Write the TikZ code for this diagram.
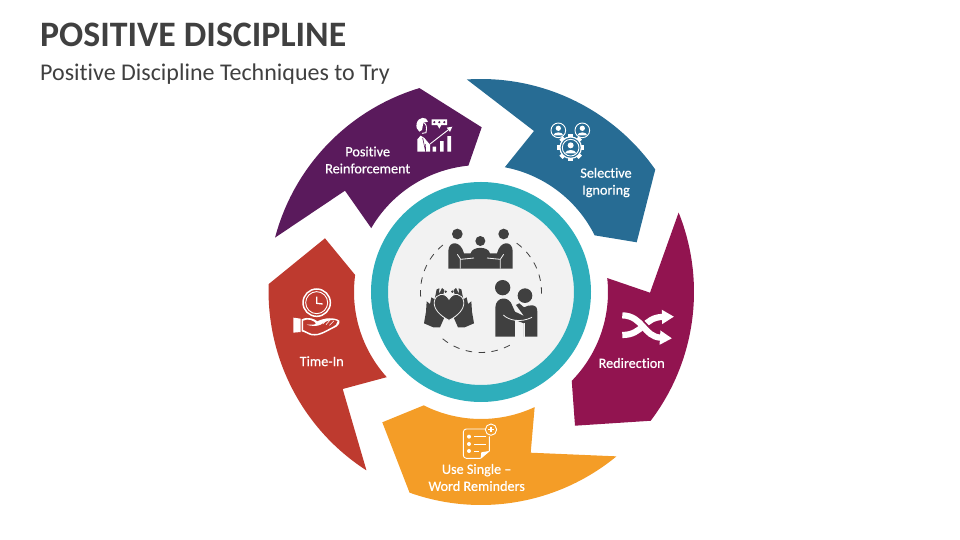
\documentclass[tikz,border=0pt]{standalone}
\usepackage{fontspec}
\setmainfont[Ligatures=NoCommon]{Carlito}
\newfontfamily\capfont[Ligatures=NoCommon,FakeBold=0.5]{Carlito}
\usetikzlibrary{arrows.meta}
\definecolor{petalpurple}{HTML}{5A1A5C}
\definecolor{petalblue}{HTML}{276C94}
\definecolor{petalmagenta}{HTML}{921450}
\definecolor{petalorange}{HTML}{F49D27}
\definecolor{petalred}{HTML}{BE3A2F}
\definecolor{hubteal}{HTML}{2FAEBB}
\definecolor{hubgray}{HTML}{F2F2F2}
\definecolor{inkgray}{HTML}{404040}
\tikzset{
  caption/.style={text=white,align=center,font=\capfont\fontsize{14.2}{17}\selectfont},
  whiteline/.style={draw=white,line width=0.9,fill=none},
  whitefill/.style={fill=white,draw=none},
  hubfill/.style={fill=inkgray,draw=none},
  hubline/.style={draw=hubgray,line width=0.8,fill=none},
  % crop grids, 3 units to the pixel
  purplegrid/.style={x=0.3333pt,y=-0.3333pt,shift={(-663,-666)}},
  bluegrid/.style={x=0.3333pt,y=-0.3333pt,shift={(-63,-666)}},
  magentagrid/.style={x=0.3333pt,y=-0.3333pt,shift={(237,-246)}},
  orangegrid/.style={x=0.3333pt,y=-0.3333pt,shift={(-333,309)}},
  redgrid/.style={x=0.3333pt,y=-0.3333pt,shift={(-663,-186)}},
  hubgrid/.style={x=0.3333pt,y=-0.3333pt,shift={(-243,-246)}},
}
\newcommand{\userbadge}[3]{%
  \draw[whiteline] (#1,#2) circle[radius=#3];
  \fill[white] (#1,#2-0.28*#3) circle[radius=0.36*#3];
  \fill[white] (#1-0.68*#3,#2+0.68*#3) .. controls (#1-0.6*#3,#2+0.15*#3) and (#1+0.6*#3,#2+0.15*#3) .. (#1+0.68*#3,#2+0.68*#3) -- cycle;
}
\begin{document}
\begin{tikzpicture}[x=1pt,y=1pt]
\useasboundingbox (-481,-248) rectangle (479,292);

\node[anchor=west,text=inkgray,font=\fontsize{35.8}{40}\selectfont\bfseries,inner sep=0] (title) at (-441,257.5) {POSITIVE DISCIPLINE};
\node[anchor=west,text=inkgray,font=\fontsize{24}{28}\selectfont,inner sep=0] (subtitle) at (-441,217.5) {Positive Discipline Techniques to Try};

% petals
\fill[petalpurple] (165.2:213) arc[start angle=165.2,end angle=106.8,radius=213] -- (0.7,164.7) -- (95.7:127)
    arc[start angle=95.7,end angle=149.8,radius=127] -- (-136,101.3) -- cycle;
\fill[petalblue] (93.8:213) arc[start angle=93.8,end angle=35.1,radius=213] -- (155.7,49.7) -- (26.5:127)
    arc[start angle=26.5,end angle=79.2,radius=127] -- (53,161) -- cycle;
\fill[petalmagenta] (21.9:213) arc[start angle=21.9,end angle=-37.2,radius=213] -- (94,-133.7) -- (-44.4:127)
    arc[start angle=-44.4,end angle=6.3,radius=127] -- (169,-0.7) -- cycle;
\fill[petalorange] (-50.5:213) arc[start angle=-50.5,end angle=-109.6,radius=213] -- (-98.7,-130.3) -- (-116.8:127)
    arc[start angle=-116.8,end angle=-65,radius=127] -- (49.7,-160.7) -- cycle;
\fill[petalred] (-122.7:212) arc[start angle=-122.7,end angle=-181.9,radius=213] -- (-156,53.7) -- (172.3:127)
    arc[start angle=172.3,end angle=222.1,radius=127] -- (-138.3,-97) -- cycle;

% hub
\node[circle,draw=hubteal,fill=hubgray,line width=17,minimum size=203,inner sep=0] (hub) at (0,0) {};
\draw[inkgray,line width=0.8,dash pattern=on 6.5 off 6.5] (129:60.5) arc[start angle=129,end angle=187,radius=60.5];
\draw[inkgray,line width=0.8,dash pattern=on 6.5 off 6.5] (53.8:60.5) arc[start angle=53.8,end angle=-6,radius=60.5];
\draw[inkgray,line width=0.8,dash pattern=on 6.5 off 6.5] (230.7:60.5) arc[start angle=230.7,end angle=300,radius=60.5];

% people at the table
\begin{scope}[hubgrid]
  \fill[inkgray] (172,72) circle[radius=16] (241,93) circle[radius=15] (311,72) circle[radius=16];
  \path[hubfill] (145,176) -- (145,122) .. controls (146,92) and (182,90) .. (192,130) -- (212,130)
     .. controls (216,108) and (266,108) .. (270,130) -- (291,130) .. controls (301,90) and (337,92) .. (338,122) -- (338,176) -- cycle;
  \draw[hubline] (172,133) -- (182,148) -- (222,144) (181,148) -- (181,176);
  \draw[hubline] (311,133) -- (301,148) -- (261,144) (301,148) -- (301,176);
\end{scope}

% hands and heart
\begin{scope}[hubgrid]
  \foreach \flip/\slide in {1/0,-1/294}{
  \begin{scope}[shift={(\slide,0)},xscale=\flip]
    \path[hubfill] (72,340) -- (78,305) -- (80,274) -- (90,282) -- (94,262) -- (104,268) -- (110,238) -- (118,235) -- (117,252)
       -- (126,234) -- (133,240) -- (128,262) -- (135,318) -- (120,352) -- (100,352) -- cycle;
  \end{scope}}
  \fill[inkgray] (157,245) circle[radius=4] (137,245) circle[radius=4];
  \path[fill=inkgray,draw=hubgray,line width=0.8] (147,331) .. controls (120,317) and (100,297) .. (103,275) .. controls (106,250) and (135,245) .. (147,268)
     .. controls (159,245) and (188,250) .. (191,275) .. controls (194,297) and (174,317) .. (147,331) -- cycle;
\end{scope}

% adult and child
\begin{scope}[hubgrid]
  \fill[inkgray] (308,233) circle[radius=23] (375,257) circle[radius=22];
  \path[hubfill] (286,380) -- (286,292) .. controls (288,258) and (328,258) .. (336,285) -- (345,305) -- (372,318)
     -- (348,285) -- (358,280) -- (372,292) -- (385,287) -- (398,286) .. controls (410,288) and (412,296) .. (412,306) -- (412,380) -- (372,380) -- (372,340) -- (345,330) -- (345,380) -- cycle;
  \draw[hubline] (310,315) .. controls (325,330) and (360,340) .. (396,322);
  \draw[hubline] (372,380) -- (372,340) (345,335) -- (345,380);
\end{scope}

% purple icon
\begin{scope}[purplegrid]
  \path[whitefill] (472,245) -- (472,208) -- (482,197) -- (493,204) -- (510,224) -- (510,245) -- cycle;
  \draw[petalpurple,line width=0.6] (488,204) -- (497,245) -- (497,222);
  \path[whitefill] (470,160) .. controls (475,140) and (500,138) .. (504,155) -- (490,158) -- (486,180) -- (478,185) .. controls (470,180) and (468,170) .. (470,160) -- cycle;
  \draw[whiteline] (490,158) .. controls (498,160) and (502,170) .. (498,188) -- (486,190);
  \path[whitefill] (515,148) rectangle (561,165) (532,165) -- (544,165) -- (538,176) -- cycle;
  \foreach \starx in {523,538,553} \fill[petalpurple] (\starx,156.5) circle[radius=3.5];
  \draw[whiteline,-{Triangle[length=5,width=5]}] (510,222) -- (577,170);
  \path[whitefill] (518,230) rectangle (528,245) (540,213) rectangle (551,245) (562,198) rectangle (573,245);
\end{scope}

% blue icon
\begin{scope}[bluegrid]
  \userbadge{295}{181}{22}
  \userbadge{367}{181}{22}
  \foreach \tooth in {0,45,...,315}
    \fill[white,shift={(332,233)},rotate=\tooth] (-7,-41) rectangle (7,-28);
  \fill[white] (332,233) circle[radius=34];
  \fill[petalblue] (332,233) circle[radius=30];
  \userbadge{332}{233}{25}
\end{scope}

% magenta icon
\begin{scope}[magentagrid]
  \draw[white,line width=6.2,-{Triangle[length=12,width=13.5]}] (187,375) .. controls (250,375) and (250,322) .. (342,320);
  \draw[petalmagenta,line width=7.6] (215,322) .. controls (245,328) and (255,365) .. (290,373);
  \draw[white,line width=6.2,-{Triangle[length=12,width=13.5]}] (187,316) .. controls (250,318) and (250,380) .. (336,385);
\end{scope}

% orange icon
\begin{scope}[orangegrid]
  \draw[whiteline,rounded corners=3] (346,102) -- (280,102) -- (280,190) -- (332,190);
  \draw[whiteline] (358,124) -- (358,168) -- (332,190);
  \path[whitefill] (358,168) -- (332,190) -- (334,172) -- cycle;
  \fill[white] (297,125) circle[radius=6] (297,147) circle[radius=6] (297,168) circle[radius=6];
  \draw[white,line width=0.9] (312,125) -- (348,125) (312,147) -- (348,147) (312,168) -- (326,168);
  \draw[whiteline] (363,104) circle[radius=17];
  \draw[white,line width=1.2] (355,104) -- (371,104) (363,96) -- (363,112);
\end{scope}

% red icon
\begin{scope}[redgrid]
  \draw[white,line width=1.5] (170,218) circle[radius=41];
  \draw[white,line width=0.9] (170,218) circle[radius=33];
  \draw[white,line width=1.3] (170,200) -- (170,220) -- (188,222);
  \path[whitefill] (100,263) -- (122,266) -- (122,306) -- (100,308) -- cycle;
  \path[whitefill,even odd rule] (125,268) .. controls (145,258) and (165,268) .. (172,274) .. controls (195,262) and (225,262) .. (238,272) .. controls (240,282) and (232,290) .. (222,294)
     .. controls (200,304) and (180,320) .. (155,316) .. controls (145,314) and (135,306) .. (125,304) -- cycle
     (129,272) .. controls (145,264) and (162,272) .. (168,280) .. controls (165,286) and (150,284) .. (140,284) .. controls (150,288) and (172,290) .. (182,284) .. controls (200,270) and (222,266) .. (233,273) .. controls (233,282) and (225,288) .. (218,291)
     .. controls (198,300) and (178,316) .. (156,312) .. controls (146,310) and (137,302) .. (129,300) -- cycle;
  \draw[white,line width=0.6] (178,280) -- (192,268) (188,282) -- (202,268) (198,284) -- (212,268) (208,286) -- (222,272);
\end{scope}

% captions
\node[caption] (reinforcement) at (-113.3,132) {Positive\\Reinforcement};
\node[caption] (ignoring) at (125,109.5) {Selective\\Ignoring};
\node[caption] (redirection) at (150.7,-71) {Redirection};
\node[caption] (reminders) at (-4.3,-185.5) {Use Single –\\Word Reminders};
\node[caption] (timein) at (-159.3,-69.2) {Time-In};
\end{tikzpicture}
\end{document}
